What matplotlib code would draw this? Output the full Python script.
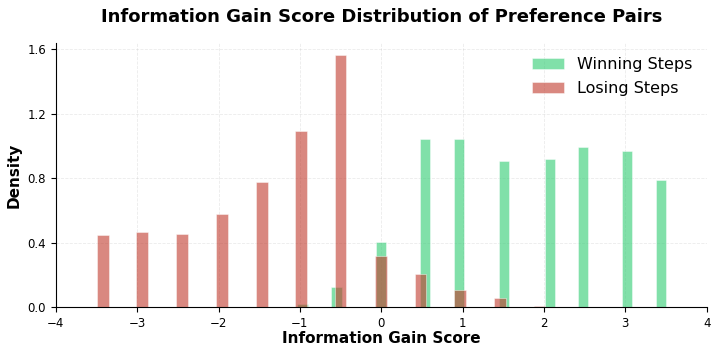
import matplotlib
matplotlib.use("Agg")
import matplotlib.pyplot as plt

# bin left edges and densities
win_left = [-1.03, -0.613, -0.069, 0.48, 0.893, 1.446, 2.007, 2.413, 2.962, 3.375]
win_density = [0.02, 0.122, 0.401, 1.044, 1.04, 0.908, 0.918, 0.99, 0.968, 0.789]

lose_left = [-3.493, -3.009, -2.517, -2.034, -1.543, -1.055, -0.573, -0.077,
             0.41, 0.893, 1.385, 1.872]
lose_density = [0.449, 0.463, 0.455, 0.576, 0.778, 1.093, 1.561, 0.315,
                0.208, 0.105, 0.054, 0.005]

win_width = 0.125
lose_width = 0.145

fig, ax = plt.subplots(figsize=(7.16, 3.63), dpi=100)
fig.subplots_adjust(left=0.078, right=0.987, bottom=0.154, top=0.882)

ax.bar(win_left, win_density, width=win_width, align='edge', color='#2ecc71',
       alpha=0.6, edgecolor='white', linewidth=0.5, label='Winning Steps')
ax.bar(lose_left, lose_density, width=lose_width, align='edge', color='#c0392b',
       alpha=0.6, edgecolor='white', linewidth=0.5, label='Losing Steps')

ax.set_xlim(-4, 4)
ax.set_yticks([0.0, 0.4, 0.8, 1.2, 1.6])
ax.set_xlabel('Information Gain Score', fontsize=11, fontweight='bold', labelpad=1)
ax.set_ylabel('Density', fontsize=11, fontweight='bold')
ax.set_title('Information Gain Score Distribution of Preference Pairs',
             fontsize=13, fontweight='bold', pad=15)
ax.tick_params(labelsize=8.5)
ax.spines['top'].set_visible(False)
ax.spines['right'].set_visible(False)
ax.grid(True, linestyle='--', alpha=0.25, linewidth=0.6)
ax.set_axisbelow(True)
ax.legend(fontsize=11.5, frameon=False, loc='upper right', labelspacing=0.55)

fig.savefig('out.png', dpi=100)
